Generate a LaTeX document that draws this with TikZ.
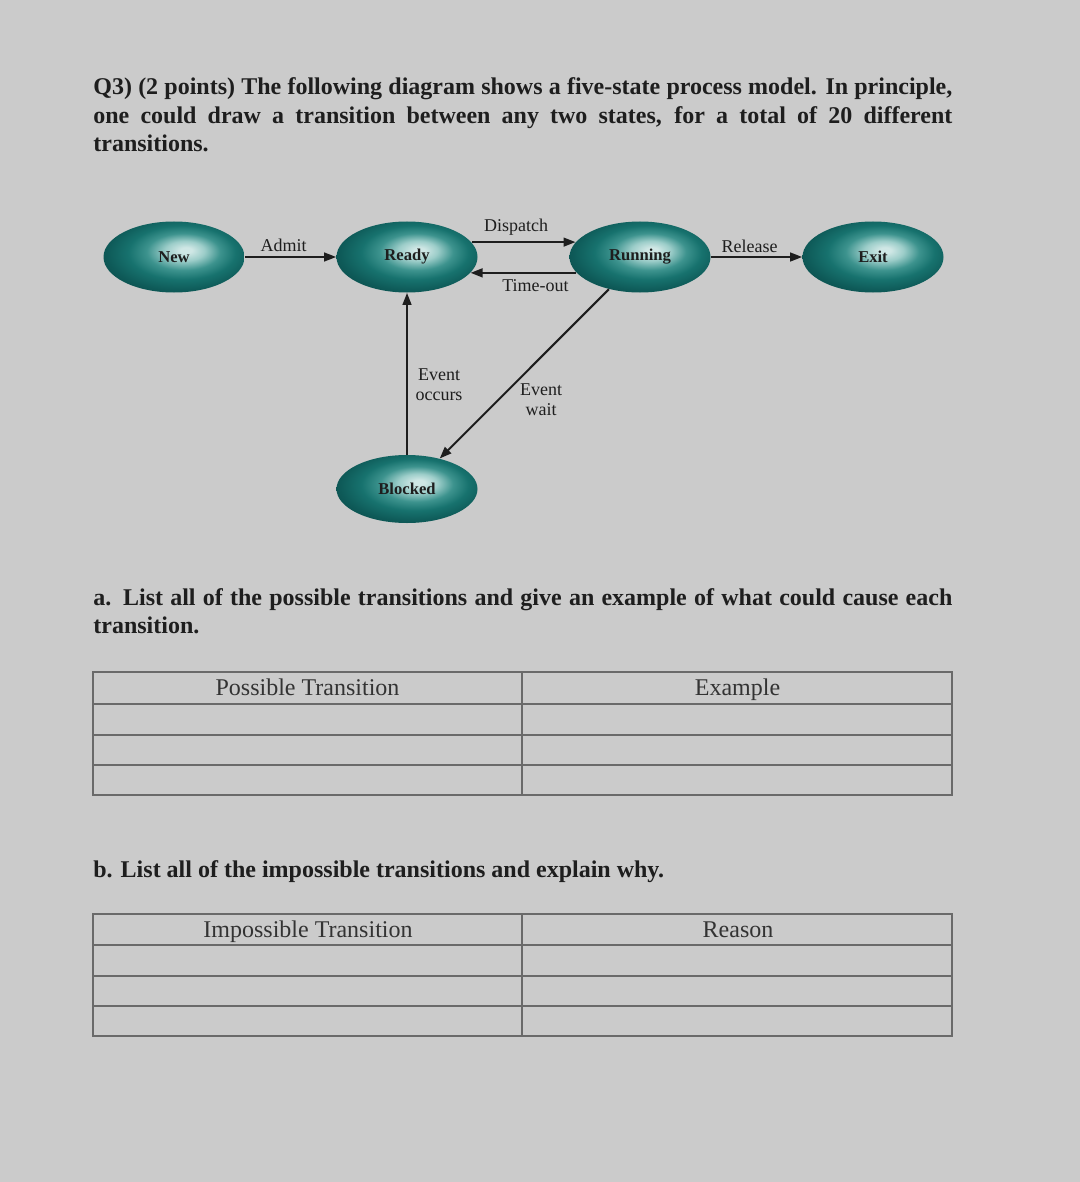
\documentclass[tikz,border=0pt]{standalone}
\usepackage{fontspec}
\setmainfont{Liberation Serif}
\usetikzlibrary{shapes.geometric,arrows.meta}
\definecolor{bg}{HTML}{CBCBCB}
\definecolor{ink}{HTML}{1E1E1E}
\definecolor{headink}{HTML}{333333}
\definecolor{rulec}{HTML}{6A6A6A}
\definecolor{tealhi}{HTML}{CFE7E5}
\definecolor{teallt}{HTML}{9CCDC9}
\definecolor{tealmid}{HTML}{3D938E}
\definecolor{tealbody}{HTML}{17726E}
\definecolor{tealdeep}{HTML}{0E5A58}
\definecolor{tealdark}{HTML}{0A4847}
\pgfdeclareradialshading{statesh}{\pgfpoint{4.5bp}{5bp}}{%
 color(0bp)=(tealhi); color(2bp)=(tealhi); color(7bp)=(teallt); color(13bp)=(tealmid); color(19bp)=(tealbody); color(26bp)=(tealdeep); color(33bp)=(tealdark); color(50bp)=(tealdark)}
\begin{document}
\begin{tikzpicture}[x=0.5pt,y=-0.5pt,
  state/.style={ellipse, shading=statesh, minimum width=70.5pt, minimum height=35.5pt, inner sep=0pt,
    font=\fontsize{8.3}{10}\selectfont\bfseries, text=ink},
  conn/.style={draw=ink, line width=1pt, -{Triangle[length=6pt,width=4.4pt]}},
  lbl/.style={font=\fontsize{9}{9.7}\selectfont, text=ink, inner sep=0pt, align=center},
  body/.style={font=\fontsize{12}{14.25}\selectfont\bfseries, text=ink, inner sep=0pt},
  head/.style={font=\fontsize{12}{14}\selectfont, text=headink, inner sep=0pt, anchor=base},
  grid/.style={draw=rulec, line width=1.1pt}]
\fill[bg] (0,0) rectangle (1080,1182);
\useasboundingbox (0,0) rectangle (1080,1182);

% question text
\node[body, anchor=base west, text width=429.5pt, align=justify] (q3) at (93,95)
 {\tolerance=10000 Q3) (2 points) The following diagram shows a five-state process model. In principle,\linebreak
  one could draw a transition between any two states, for a total of 20 different\linebreak
  transitions.};

% states
\node[state] (new) at (174,257) {New};
\node[state] (ready) at (407,257) {Ready};
\node[state] (run) at (640,257) {Running};
\node[state] (exit) at (873,257) {Exit};
\node[state, minimum height=34pt] (blocked) at (407,489) {Blocked};

% transitions
\draw[conn] (new) -- (ready);
\draw[conn] (ready.13) -- (run.167);
\draw[conn] (run.194) -- (ready.-14);
\draw[conn] (run) -- (exit);
\draw[conn] (blocked) -- (ready);
\draw[conn] (run.226) -- (blocked.43);

% transition labels
\node[lbl, anchor=base] (admit) at (283.5,251) {Admit};
\node[lbl, anchor=base] (disp) at (516,232) {Dispatch};
\node[lbl, anchor=base] (tout) at (535.5,292) {Time-out};
\node[lbl, anchor=base] (rel) at (749.5,252) {Release};
\node[lbl, anchor=base] (evo) at (439,400) {Event\\occurs};
\node[lbl, anchor=base] (evw) at (541,415) {Event\\wait};

% part a
\node[body, anchor=base west, text width=429.5pt, align=justify] (qa) at (93,605)
 {\tolerance=10000 a. List all of the possible transitions and give an example of what could cause each\linebreak
  transition.};

% table 1
\draw[grid] (93,672) rectangle (952,795);
\foreach \yy in {704,735,765} \draw[grid] (93,\yy) -- (952,\yy);
\draw[grid] (522,672) -- (522,795);
\node[head] (h1) at (307.5,695) {Possible Transition};
\node[head] (h2) at (737.5,695) {Example};

% part b
\node[body, anchor=base west] (qb) at (93,877) {b. List all of the impossible transitions and explain why.};

% table 2
\draw[grid] (93,914) rectangle (952,1036);
\foreach \yy in {945,976,1006} \draw[grid] (93,\yy) -- (952,\yy);
\draw[grid] (522,914) -- (522,1036);
\node[head] (h3) at (308,937) {Impossible Transition};
\node[head] (h4) at (738,937) {Reason};
\end{tikzpicture}
\end{document}
